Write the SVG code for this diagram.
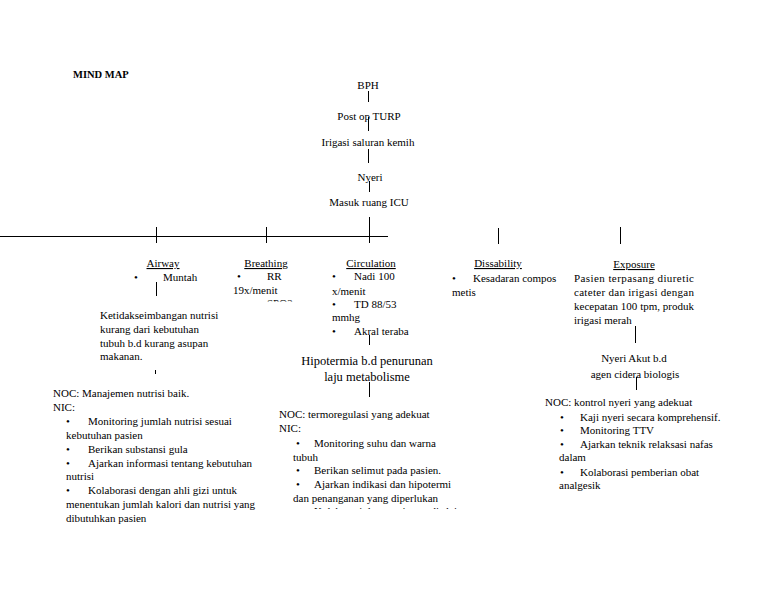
<svg xmlns="http://www.w3.org/2000/svg" width="768" height="594" viewBox="0 0 768 594" font-family="'Liberation Serif', 'DejaVu Serif', serif" font-size="11">
<style>
text{font-family:'Liberation Serif','DejaVu Serif',serif;font-size:11px;fill:#000}
.c{text-anchor:middle}
.h{text-decoration:underline}
.b{font-weight:bold;font-size:10.5px}
.big{font-size:12.5px}
line{stroke:#000;stroke-width:1}
</style>
<defs>
<clipPath id="clipB"><rect x="230" y="296" width="80" height="5.5"/></clipPath>
<clipPath id="clipC"><rect x="280" y="502" width="200" height="7"/></clipPath>
</defs>
<rect width="768" height="594" fill="#fff"/>
<text class="b" x="73" y="78">MIND MAP</text>
<g id="connectors">
<line x1="368.5" y1="91" x2="368.5" y2="102"/>
<line x1="368.5" y1="117" x2="368.5" y2="131"/>
<line x1="368.5" y1="149" x2="368.5" y2="163"/>
<line x1="369.5" y1="181" x2="369.5" y2="192"/>
<line x1="369.5" y1="217" x2="369.5" y2="243"/>
<line x1="0" y1="236.5" x2="388" y2="236.5"/>
<line x1="156.5" y1="227" x2="156.5" y2="243"/>
<line x1="266.5" y1="227" x2="266.5" y2="243"/>
<line x1="498.5" y1="228" x2="498.5" y2="244"/>
<line x1="620.5" y1="227" x2="620.5" y2="244"/>
<line x1="156.5" y1="282" x2="156.5" y2="296"/>
<line x1="155.5" y1="370" x2="155.5" y2="374"/>
<line x1="369.5" y1="335" x2="369.5" y2="345"/>
<line x1="369.5" y1="382" x2="369.5" y2="397"/>
<line x1="635.5" y1="326" x2="635.5" y2="343"/>
<line x1="636.5" y1="377" x2="636.5" y2="390"/>
</g>
<g id="bph"><text class="c" x="368" y="89">BPH</text></g>
<g id="postop"><text class="c" x="369" y="120">Post op TURP</text></g>
<g id="irigasi"><text class="c" x="368" y="146">Irigasi saluran kemih</text></g>
<g id="nyeri"><text class="c" x="370" y="181">Nyeri</text></g>
<g id="icu"><text class="c" x="369" y="206">Masuk ruang ICU</text></g>
<g id="airway">
<text class="c h" x="163" y="267">Airway</text>
<text x="134" y="281">•</text><text x="163" y="281">Muntah</text>
</g>
<g id="breathing">
<text class="c h" x="266" y="267">Breathing</text>
<text x="237" y="280">•</text><text x="267" y="280">RR</text>
<text x="233" y="294">19x/menit</text>
<g clip-path="url(#clipB)"><text x="237" y="307">•</text><text x="267" y="307">SPO2</text></g>
</g>
<g id="circulation">
<text class="c h" x="371" y="267">Circulation</text>
<text x="332" y="280">•</text><text x="354" y="280">Nadi 100</text>
<text x="332" y="295">x/menit</text>
<text x="332" y="308">•</text><text x="354" y="308">TD 88/53</text>
<text x="332" y="321">mmhg</text>
<text x="332" y="335">•</text><text x="354" y="335">Akral teraba</text>
</g>
<g id="dissability">
<text class="c h" x="498" y="267">Dissability</text>
<text x="452" y="282">•</text><text x="473" y="282">Kesadaran compos</text>
<text x="452" y="296">metis</text>
</g>
<g id="exposure">
<text class="c h" x="634" y="268">Exposure</text>
<text x="574" y="282" textLength="120" lengthAdjust="spacing">Pasien terpasang diuretic</text>
<text x="574" y="296" textLength="120" lengthAdjust="spacing">cateter dan irigasi dengan</text>
<text x="574" y="310" textLength="120" lengthAdjust="spacing">kecepatan 100 tpm, produk</text>
<text x="574" y="324">irigasi merah</text>
</g>
<g id="ketidak">
<text x="100" y="319">Ketidakseimbangan nutrisi</text>
<text x="100" y="333">kurang dari kebutuhan</text>
<text x="100" y="347">tubuh b.d kurang asupan</text>
<text x="100" y="360">makanan.</text>
</g>
<g id="hipotermia">
<text class="c big" x="367" y="365">Hipotermia b.d penurunan</text>
<text class="c big" x="367" y="381">laju metabolisme</text>
</g>
<g id="nyeriakut">
<text class="c" x="634" y="362">Nyeri Akut b.d</text>
<text class="c" x="635" y="378">agen cidera biologis</text>
</g>
<g id="noc-airway">
<text x="53" y="397">NOC: Manajemen nutrisi baik.</text>
<text x="53" y="411">NIC:</text>
<text x="66" y="425">•</text><text x="88" y="425">Monitoring jumlah nutrisi sesuai</text>
<text x="66" y="439">kebutuhan pasien</text>
<text x="66" y="453">•</text><text x="88" y="453">Berikan substansi gula</text>
<text x="66" y="467">•</text><text x="88" y="467">Ajarkan informasi tentang kebutuhan</text>
<text x="66" y="480">nutrisi</text>
<text x="66" y="494">•</text><text x="88" y="494">Kolaborasi dengan ahli gizi untuk</text>
<text x="66" y="508">menentukan jumlah kalori dan nutrisi yang</text>
<text x="66" y="522">dibutuhkan pasien</text>
</g>
<g id="noc-circulation">
<text x="279" y="418">NOC: termoregulasi yang adekuat</text>
<text x="279" y="432">NIC:</text>
<text x="296" y="447">•</text><text x="314" y="447">Monitoring suhu dan warna</text>
<text x="293" y="461">tubuh</text>
<text x="296" y="474">•</text><text x="314" y="474">Berikan selimut pada pasien.</text>
<text x="296" y="488">•</text><text x="314" y="488">Ajarkan indikasi dan hipotermi</text>
<text x="293" y="502">dan penanganan yang diperlukan</text>
<g clip-path="url(#clipC)"><text x="296" y="515">•</text><text x="314" y="515">Kolaborasi dengan tim medis lain</text></g>
</g>
<g id="noc-exposure">
<text x="545" y="406">NOC: kontrol nyeri yang adekuat</text>
<text x="560" y="421">•</text><text x="580" y="421">Kaji nyeri secara komprehensif.</text>
<text x="560" y="434">•</text><text x="580" y="434">Monitoring TTV</text>
<text x="560" y="448">•</text><text x="580" y="448">Ajarkan teknik relaksasi nafas</text>
<text x="559" y="461">dalam</text>
<text x="560" y="476">•</text><text x="580" y="476">Kolaborasi pemberian obat</text>
<text x="559" y="489">analgesik</text>
</g>
</svg>
